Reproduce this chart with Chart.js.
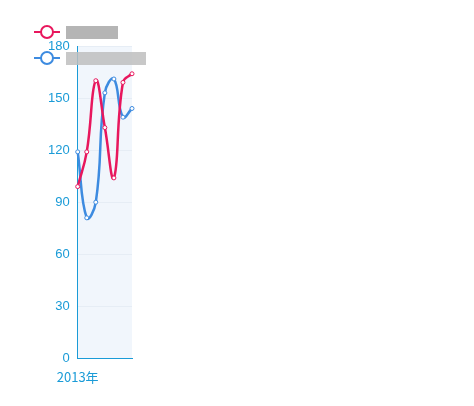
<!DOCTYPE html>
<html><head><meta charset="utf-8">
<script src="https://cdn.jsdelivr.net/npm/chart.js@4"></script>
<style>html,body{margin:0;background:#fff}#c{display:block}</style>
</head><body>
<canvas id="c" width="474" height="406"></canvas>
<script>
var categories = ['2013年', '2014年', '2015年', '2016年', '2017年', '2018年', '2019年'];
var seriesNames = ['数据一', '数据二'];
var redValues = [99, 119, 160, 133, 104, 159, 164];
var blueValues = [119, 81, 90, 153, 161, 139, 144];
var yTicks = [0, 30, 60, 90, 120, 150, 180];
var colors = ['#e8175d', '#3d8be0'];

var bgPlugin = {
  id: 'bg',
  beforeDraw: function(chart){
    var a = chart.chartArea, ctx = chart.ctx;
    ctx.save();
    ctx.fillStyle = '#f1f6fc';
    ctx.fillRect(a.left, a.top, a.right - a.left, a.bottom - a.top);
    ctx.restore();
  }
};
var legendPlugin = {
  id: 'myLegend',
  afterDraw: function(chart){
    var ctx = chart.ctx;
    chart.data.datasets.forEach(function(ds, i){
      var y = 32 + i * 26, x = 34;
      ctx.save();
      ctx.strokeStyle = ds.borderColor; ctx.lineWidth = 2;
      ctx.beginPath(); ctx.moveTo(x, y); ctx.lineTo(x + 26, y); ctx.stroke();
      ctx.fillStyle = '#fff';
      ctx.beginPath(); ctx.arc(x + 13, y, 6, 0, Math.PI * 2); ctx.fill(); ctx.stroke();
      ctx.fillStyle = i ? 'rgba(190,190,190,0.85)' : '#b5b5b5';
      ctx.fillRect(x + 32, y - 6, i ? 80 : 52, 13);
      ctx.font = '13px "Noto Sans CJK SC"';
      ctx.fillStyle = 'rgba(0,0,0,0)';
      ctx.fillText(ds.label, x + 32, y + 5);
      ctx.restore();
    });
  }
};

new Chart(document.getElementById('c'), {
  type: 'line',
  data: {
    labels: categories,
    datasets: [
      {label: seriesNames[0], data: redValues, borderColor: colors[0], backgroundColor: '#fff',
       borderWidth: 2.5, tension: 0.45, pointRadius: 2, pointBorderWidth: 1},
      {label: seriesNames[1], data: blueValues, borderColor: colors[1], backgroundColor: '#fff',
       borderWidth: 2.5, tension: 0.45, pointRadius: 2, pointBorderWidth: 1}
    ]
  },
  options: {
    responsive: false,
    animation: false,
    layout: {padding: {top: 46, right: 342, bottom: 18, left: 40}},
    plugins: {legend: {display: false}, tooltip: {enabled: false}},
    scales: {
      x: {
        offset: false,
        grid: {display: false},
        border: {color: '#1a9bd7'},
        ticks: {color: '#1a9bd7', font: {size: 13, family: 'Noto Sans CJK SC'}, maxRotation: 0, autoSkip: false,
          callback: function(v, i){ return i === 0 ? categories[0] : ''; }}
      },
      y: {
        min: 0, max: 180,
        afterBuildTicks: function(s){ s.ticks = yTicks.map(function(v){ return {value: v}; }); },
        grid: {color: '#e6edf5', drawTicks: false},
        border: {color: '#1a9bd7'},
        ticks: {color: '#1a9bd7', font: {size: 13}, padding: 8}
      }
    }
  },
  plugins: [bgPlugin, legendPlugin]
});
</script>
</body></html>
